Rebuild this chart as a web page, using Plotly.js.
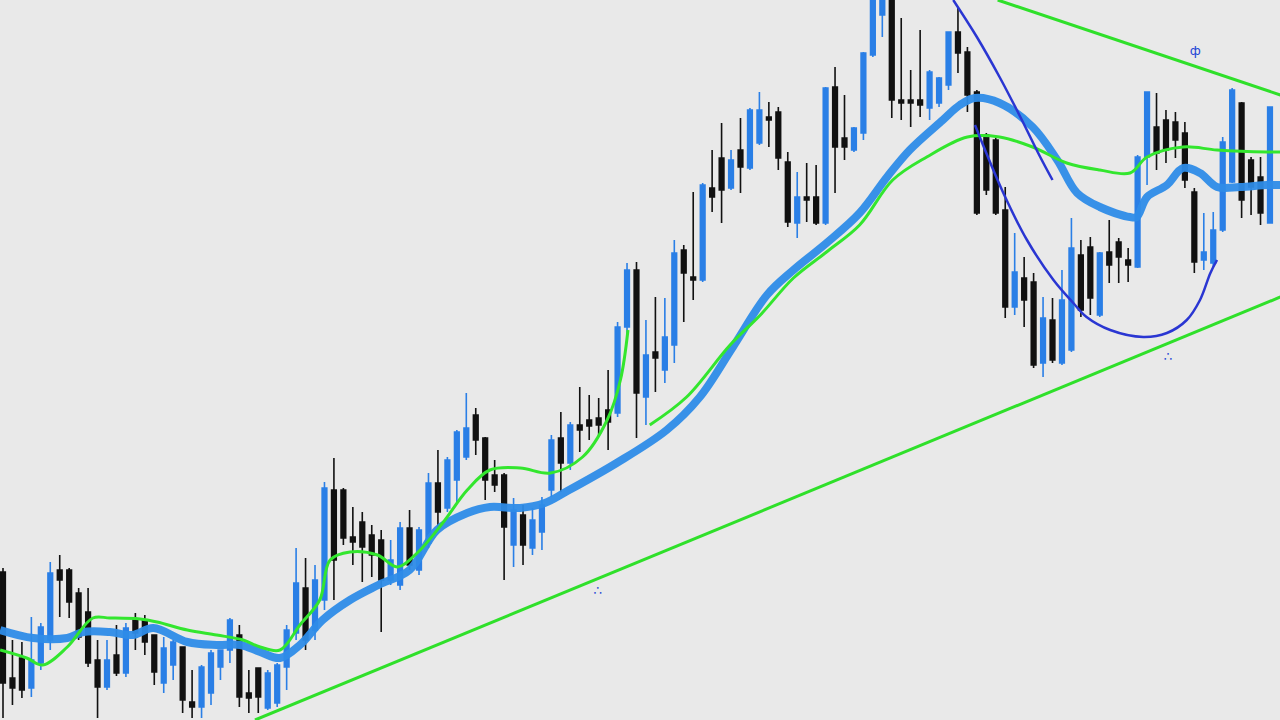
<!DOCTYPE html>
<html>
<head>
<meta charset="utf-8">
<script src="https://cdn.plot.ly/plotly-3.0.1.min.js"></script>
<style>
  html, body { margin: 0; padding: 0; background: #e9e9e9; }
  #chart { width: 1280px; height: 720px; }
</style>
</head>
<body>
<div id="chart"></div>
<script>
// Candles (one per bar, left to right)
const openP  = [148,42,62,32,57,80,150,150,127,108,60,33,65,47,100,100,85,37,55,73,18,13,27,53,70,85,27,
  52,12,17,53,87,132,90,120,230,230,183,198,185,180,140,135,192,150,177,237,212,240,263,305,282,245,245,175,
  205,172,188,230,282,257,295,300,302,310,307,393,450,323,368,350,375,470,443,440,532,562,532,570,552,577,603,608,
  558,497,523,523,497,633,582,570,587,665,705,735,620,620,620,612,617,635,688,668,628,585,580,
  510,413,442,438,357,400,357,370,465,473,405,468,478,460,453,563,593,600,598,587,528,460,457,490,538,617,560,543,497];
const highP  = [152,80,78,103,97,158,165,152,132,132,80,80,95,97,107,105,85,83,80,73,50,55,70,70,102,95,50,
  52,50,57,95,172,162,155,238,262,232,213,208,195,190,180,198,210,193,247,270,263,290,327,312,283,260,247,222,
  215,212,223,285,308,298,333,325,322,350,398,457,458,400,423,422,480,475,528,537,570,597,570,602,612,628,618,613,
  568,548,557,555,633,653,625,593,668,740,748,750,702,650,690,650,643,688,712,673,630,587,582,
  533,487,463,447,423,422,450,502,480,483,468,500,482,472,565,628,627,610,608,598,532,507,508,583,632,618,563,563,613];
const lowP   = [2,15,22,23,50,70,103,102,80,53,2,30,44,43,70,65,35,27,40,7,2,2,15,40,57,13,7,
  7,10,13,30,80,70,80,110,120,175,155,138,143,88,135,130,150,145,172,193,208,217,260,265,220,228,140,153,
  155,165,170,223,228,250,268,280,283,270,303,383,282,295,328,337,357,398,420,438,508,497,530,527,550,575,573,550,
  493,482,498,495,495,527,560,568,580,663,683,602,600,593,603,600,613,630,647,608,505,525,505,
  402,405,393,352,343,357,355,368,403,405,403,437,437,438,452,535,550,557,562,532,447,450,453,488,537,502,505,495,497];
const closeP = [37,32,30,60,93,147,140,118,83,57,33,60,47,92,87,78,48,72,78,20,13,53,67,70,100,23,22,
  23,47,55,90,137,80,140,232,160,182,178,173,165,140,160,192,155,190,237,208,260,288,292,280,240,235,193,210,
  175,200,215,280,257,295,290,294,295,298,393,450,327,365,362,383,467,447,440,535,523,530,560,553,610,610,600,562,
  498,523,520,497,632,573,573,592,667,728,735,620,617,617,615,648,642,688,667,625,507,530,507,
  413,448,420,355,402,360,420,472,410,422,467,455,463,455,563,628,567,570,580,540,458,468,490,578,630,520,533,507,613];

// Slow moving average (thick light blue), read at bar positions
const slowX = [-0.3,3.2,6.8,8.5,11.3,13.7,15.9,19.5,22.6,25.1,27.2,29.3,31.4,33.8,36.7,39.7,43.0,45.9,49.1,51.5,54.7,57.3,59.5,
  64.9,70.2,73.7,77.2,80.8,83.6,87.1,90.6,93.5,95.9,99.4,101.2,102.8,105.4,108.9,111.5,113.6,116.0,119.2,119.9,121.0,123.1,124.8,126.6,128.4,130.8,133.7,135.1];
const slowY = [90,82,82,88,88,85,92,78,75,75,68,62,75,100,120,135,150,190,207,213,212,217,228,
  257,290,323,373,425,450,477,507,543,570,600,615,622,617,593,560,527,513,503,503,523,535,552,547,533,533,535,535];

// Fast moving average (green); null marks the break in the line
const fastX = [-0.3,2.5,4.2,6.8,9.5,11.3,14.5,16.3,19.5,22.6,25.4,27.2,29.3,31.4,33.5,34.6,36.7,39.6,41.7,43.8,46.5,49.1,51.5,54.7,57.9,61.3,63.9,65.3,66.1,
  66.8,68.4,72.3,76.9,80.1,83.6,87.1,90.6,94.1,97.7,102.0,105.4,108.9,112.5,116.0,119.2,121.0,124.8,128.4,133.7,135.1];
const fastY = [70,62,55,73,102,102,101,98,90,85,80,73,70,95,120,160,168,165,153,167,197,230,250,252,247,263,300,340,390,
  null,295,323,375,405,442,468,495,540,563,583,583,573,557,550,547,563,573,570,568,568];

// Dark blue curves
const dark1X = [100.5,103.0,105.4,107.6,109.7,111.0];
const dark1Y = [720,683,643,603,563,540];
const dark2X = [102.8,105.8,108.3,111.1,113.2,114.6,117.1,120.6,123.1,125.2,126.6,127.7,128.4];
const dark2Y = [595,527,480,440,417,403,390,383,387,400,420,447,460];

// Trend lines (end points)
const supportX = [26.65,135.1];
const supportY = [0,423];
const resistX  = [105.2,135.1];
const resistY  = [720,625];

// Small marks on the chart
const markX = [126.1,123.2,62.9];
const markY = [668,362,128];
const markT = ["ф","∴","∴"];

const barX = openP.map((_, i) => i);

const traces = [
  {type:'scatter', mode:'lines', x:supportX, y:supportY, line:{color:'#2fe02a', width:3}, hoverinfo:'skip'},
  {type:'scatter', mode:'lines', x:resistX, y:resistY, line:{color:'#2fe02a', width:3}, hoverinfo:'skip'},
  {type:'candlestick', x:barX, open:openP, high:highP, low:lowP, close:closeP,
    increasing:{line:{color:'#2a7fe6', width:1.6}, fillcolor:'#2a7fe6'},
    decreasing:{line:{color:'#111111', width:1.6}, fillcolor:'#111111'},
    whiskerwidth:0},
  {type:'scatter', mode:'lines', x:slowX, y:slowY, line:{color:'#2e8ce8', width:8, shape:'spline', smoothing:1}, opacity:0.95, hoverinfo:'skip'},
  {type:'scatter', mode:'lines', x:fastX, y:fastY, line:{color:'#33e62e', width:3, shape:'spline', smoothing:1}, connectgaps:false, hoverinfo:'skip'},
  {type:'scatter', mode:'lines', x:dark1X, y:dark1Y, line:{color:'#2a36d2', width:2.5, shape:'spline'}, hoverinfo:'skip'},
  {type:'scatter', mode:'lines', x:dark2X, y:dark2Y, line:{color:'#2a36d2', width:2.5, shape:'spline'}, hoverinfo:'skip'},
  {type:'scatter', mode:'text', x:markX, y:markY, text:markT, textfont:{family:'DejaVu Sans', size:13, color:'#2747d6'}, hoverinfo:'skip'}
];

const layout = {
  width:1280, height:720,
  margin:{l:0, r:0, t:0, b:0},
  paper_bgcolor:'#e9e9e9', plot_bgcolor:'#e9e9e9',
  showlegend:false,
  xaxis:{visible:false, range:[-0.317,135.06], rangeslider:{visible:false}, fixedrange:true},
  yaxis:{visible:false, range:[0,720], fixedrange:true},
  boxgap:0.3
};

Plotly.newPlot('chart', traces, layout, {displayModeBar:false, staticPlot:true});
</script>
</body>
</html>
